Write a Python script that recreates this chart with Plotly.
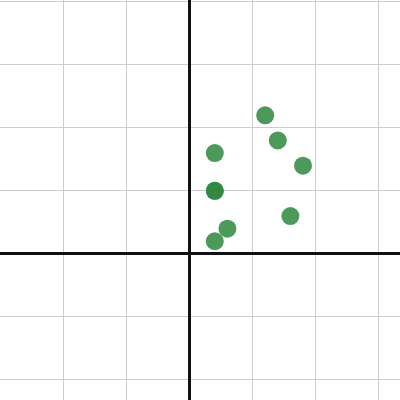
import plotly.graph_objects as go

xs = [0.4, 0.4, 0.4, 0.4, 0.6, 1.2, 1.4, 1.8, 1.6]
ys = [1.6, 1.0, 1.0, 0.2, 0.4, 2.2, 1.8, 1.4, 0.6]

fig = go.Figure(go.Scatter(x=xs, y=ys, mode="markers",
    marker=dict(size=18, color="rgba(45,135,60,0.85)", line=dict(width=0))))
ax = dict(showgrid=True, gridcolor="#cccccc", gridwidth=1, dtick=1,
          zeroline=True, zerolinecolor="#111", zerolinewidth=2.5, showticklabels=False, showline=False)
fig.update_xaxes(**{**ax, "range": [-3.01, 3.34]})
fig.update_yaxes(**{**ax, "range": [-2.32, 4.03]})
fig.update_layout(width=400, height=400, margin=dict(l=0, r=0, t=0, b=0),
                  plot_bgcolor="white", paper_bgcolor="white", showlegend=False)
fig.write_html("out.html", config={"displayModeBar": False},
               post_script="document.body.style.margin='0';document.body.style.overflow='hidden';")
